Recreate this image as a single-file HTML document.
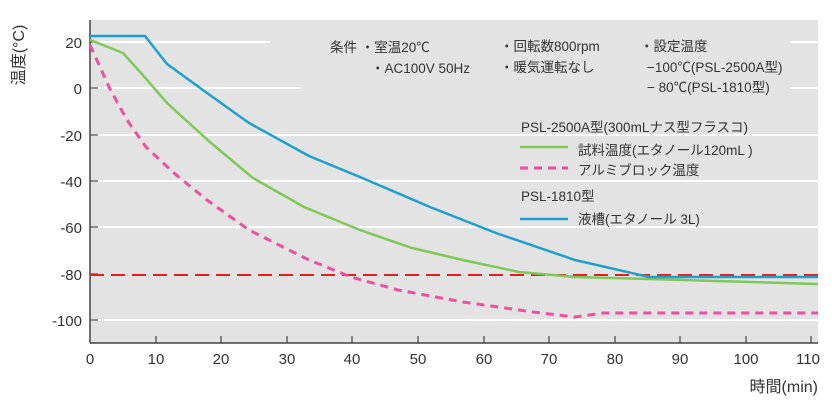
<!DOCTYPE html>
<html><head><meta charset="utf-8"><style>
body{margin:0;background:#fff;}
svg text{font-family:"Liberation Sans","Noto Sans CJK JP",sans-serif;fill:#333;}
</style></head><body>
<svg width="836" height="407" viewBox="0 0 836 407" xmlns="http://www.w3.org/2000/svg">
<rect x="90" y="20" width="728" height="323" fill="#e3e3e3"/>
<g stroke="#fff" stroke-width="2">
<line x1="90" y1="42" x2="270" y2="42"/><line x1="90" y1="88" x2="300" y2="88"/>
<line x1="90" y1="135" x2="818" y2="135"/><line x1="90" y1="181" x2="818" y2="181"/>
<line x1="90" y1="227" x2="818" y2="227"/><line x1="90" y1="320" x2="818" y2="320"/>
<line x1="790" y1="42" x2="818" y2="42"/><line x1="790" y1="88" x2="818" y2="88"/>
</g>
<line x1="90" y1="20" x2="90" y2="343" stroke="#444" stroke-width="1.5"/>
<line x1="90" y1="343" x2="818" y2="343" stroke="#444" stroke-width="1.5"/>
<g stroke="#444" stroke-width="1.2">
<line x1="90" y1="42" x2="98" y2="42"/><line x1="90" y1="88" x2="98" y2="88"/><line x1="90" y1="135" x2="98" y2="135"/><line x1="90" y1="181" x2="98" y2="181"/><line x1="90" y1="227" x2="98" y2="227"/><line x1="90" y1="274" x2="98" y2="274"/><line x1="90" y1="320" x2="98" y2="320"/>
<line x1="156" y1="336" x2="156" y2="343"/><line x1="221" y1="336" x2="221" y2="343"/><line x1="287" y1="336" x2="287" y2="343"/><line x1="352" y1="336" x2="352" y2="343"/><line x1="418" y1="336" x2="418" y2="343"/><line x1="484" y1="336" x2="484" y2="343"/><line x1="549" y1="336" x2="549" y2="343"/><line x1="615" y1="336" x2="615" y2="343"/><line x1="680" y1="336" x2="680" y2="343"/><line x1="746" y1="336" x2="746" y2="343"/><line x1="811" y1="336" x2="811" y2="343"/>
</g>
<g font-size="15" text-anchor="end">
<text x="82" y="48">20</text><text x="82" y="94">0</text><text x="82" y="141">-20</text><text x="82" y="187">-40</text><text x="82" y="233">-60</text><text x="82" y="280">-80</text><text x="82" y="326">-100</text>
</g>
<g font-size="15" text-anchor="middle">
<text x="90" y="364">0</text><text x="156" y="364">10</text><text x="221" y="364">20</text><text x="287" y="364">30</text><text x="352" y="364">40</text><text x="418" y="364">50</text><text x="484" y="364">60</text><text x="549" y="364">70</text><text x="615" y="364">80</text><text x="680" y="364">90</text><text x="746" y="364">100</text><text x="808" y="364">110</text>
</g>
<text x="818" y="392" font-size="16" text-anchor="end">時間(min)</text>
<text transform="translate(24,55) rotate(-90)" font-size="16" text-anchor="middle">温度(°C)</text>
<line x1="90" y1="275" x2="818" y2="275" stroke="#e02020" stroke-width="2" stroke-dasharray="14,7"/>
<polyline fill="none" stroke="#ee4fa0" stroke-width="3" stroke-dasharray="8,6" points="90,45 109,87 127,120 146,147 174,173 207,200 249,230 309,260 351,277 398,290 463,302 533,312 575,317 603,313 649,313 818,313"/>
<polyline fill="none" stroke="#7ec858" stroke-width="2.5" points="90,40 123,53 141,73 167,103 211,143 253,178 304,207 360,230 412,248 463,260 519,272 575,277 649,279 818,284"/>
<polyline fill="none" stroke="#1ea0cc" stroke-width="2.5" points="90,36 145,36 167,64 207,93 249,123 309,156 360,177 430,207 496,233 575,260 649,277 818,277"/>
<g font-size="13.5">
<text x="330" y="52">条件 ・室温20℃</text>
<text x="371" y="73">・AC100V 50Hz</text>
<text x="500" y="51">・回転数800rpm</text>
<text x="500" y="72">・暖気運転なし</text>
<text x="640" y="51">・設定温度</text>
<text x="647" y="72">−100℃(PSL-2500A型)</text>
<text x="647" y="92">− 80℃(PSL-1810型)</text>
<text x="521" y="132">PSL-2500A型(300mLナス型フラスコ)</text>
<text x="578" y="155">試料温度(エタノール120mL )</text>
<text x="578" y="175">アルミブロック温度</text>
<text x="521" y="201">PSL-1810型</text>
<text x="578" y="224">液槽(エタノール 3L)</text>
</g>
<line x1="520" y1="147" x2="568" y2="147" stroke="#7ec858" stroke-width="2.5"/>
<line x1="520" y1="168" x2="568" y2="168" stroke="#ee4fa0" stroke-width="3" stroke-dasharray="8,6"/>
<line x1="520" y1="219" x2="568" y2="219" stroke="#1ea0cc" stroke-width="2.5"/>
</svg>
</body></html>
